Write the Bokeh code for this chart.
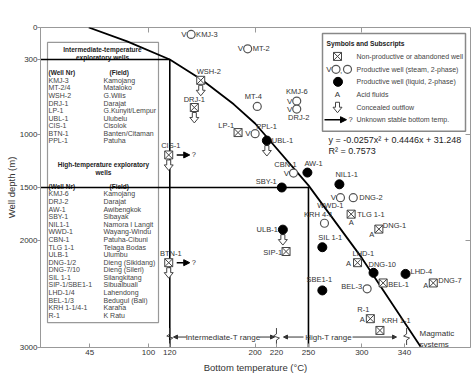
from bokeh.plotting import figure
from bokeh.models import Range1d, FixedTicker, LinearAxis, Arrow, NormalHead, ColumnDataSource
from bokeh.core.properties import value, field
from bokeh.embed import file_html
from bokeh.resources import INLINE

FONT = "Liberation Sans"
TXT = "#333333"

# ---------------- data ----------------
x_ticks = [45, 100, 120, 200, 220, 250, 300, 340]
y_ticks = [0, 300, 1000, 1500, 2000, 3000]
top_ticks = [100, 200, 300]
right_ticks = [1000, 2000]

steam_names = ["KMJ-3", "MT-2", "MT-4", "KMJ-6", "DRJ-2", "PPL-1", "CBN-1", "WWD-1", "DNG-2", "KRH 4-1", "BEL-3"]
steam_temp = [140, 193, 202, 239, 239, 200, 236, 280, 292, 265, 305]
steam_depth = [65, 200, 740, 690, 765, 995, 1365, 1595, 1595, 1835, 2450]
vapour_wells = ["KMJ-3", "MT-2", "KMJ-6", "DRJ-2", "PPL-1", "CBN-1", "WWD-1"]

liquid_names = ["UBL-1", "AW-1", "SBY-1", "ULB-1", "NIL1-1", "SIL 1-1", "DNG-10", "LHD-4", "SBE1-1"]
liquid_temp = [211, 249, 225, 226, 279, 263, 311, 341, 263]
liquid_depth = [1060, 1360, 1500, 1895, 1470, 2060, 2300, 2310, 2465]

aband_names = ["WSH-2", "DRJ-1", "LP-1", "CIS-1", "BTN-1", "SIP-1", "TLG 1-1", "DNG-1", "LHD-1", "BEL-1", "DNG-7", "R-1", "KRH 1-1"]
aband_temp = [149, 143, 184, 119, 119, 229, 290, 316, 296, 320, 367, 308, 317]
aband_depth = [495, 750, 985, 1195, 2205, 2100, 1750, 1890, 2205, 2395, 2395, 2730, 2840]

acid_wells = ["TLG 1-1", "DNG-1", "LHD-1", "DNG-7", "R-1"]
outflow_wells = ["WSH-2", "DRJ-1", "UBL-1", "CIS-1", "BTN-1", "ULB-1"]
unknown_temp_wells = ["CIS-1", "BTN-1"]

trend_temp = [44, 80, 120, 150, 180, 200, 250, 300, 355]
trend_depth = [0, 130, 300, 490, 720, 900, 1480, 2160, 2990]

int_temp_limit, int_depth_limit = 120, 300
high_temp_limit, high_depth_limit = 250, 1500
range_breaks = [120, 220, 342]

int_wells = ["KMJ-3", "MT-2/4", "WSH-2", "DRJ-1", "LP-1", "UBL-1", "CIS-1", "BTN-1", "PPL-1"]
int_fields = ["Kamojang", "Mataloko", "G.Wilis", "Darajat", "G.Kunyit/Lempur", "Ulubelu", "Cisolok",
              "Banten/Citaman", "Patuha"]
high_wells = ["KMJ-6", "DRJ-2", "AW-1", "SBY-1", "NIL1-1", "WWD-1", "CBN-1", "TLG 1-1", "ULB-1", "DNG-1/2",
              "DNG-7/10", "SIL 1-1", "SIP-1/SBE1-1", "LHD-1/4", "BEL-1/3", "KRH 1-1/4-1", "R-1"]
high_fields = ["Kamojang", "Darajat", "Awibengkok", "Sibayak", "Namora I Langit", "Wayang-Windu",
               "Patuha-Cibuni", "Telaga Bodas", "Ulumbu", "Dieng (Sikidang)", "Dieng (Sileri)", "Silangkitang",
               "Sibualbuali", "Lahendong", "Bedugul (Bali)", "Karaha", "K Ratu"]

equation = "y = -0.0257x² + 0.4446x + 31.248"
r_squared = "R² = 0.7573"
legend_texts = ["Non-productive or abandoned well", "Productive well (steam, 2-phase)",
                "Productive well (liquid, 2-phase)", "Acid fluids", "Concealed outflow",
                "Unknown stable bottom temp."]

# ---------------- layout helpers ----------------
X_MIN, X_MAX = -1.2, 401.9
Y_MIN, Y_MAX = 0, 3000
FRAME_L, FRAME_T, FRAME_W, FRAME_H = 40, 27, 430, 321
PXT = FRAME_W / (X_MAX - X_MIN)
PXD = FRAME_H / (Y_MAX - Y_MIN)


def tx(px):
    return X_MIN + (px - FRAME_L) / PXT


def dy(py):
    return Y_MIN + (py - FRAME_T) / PXD


p = figure(width=474, height=375, x_range=Range1d(X_MIN, X_MAX), y_range=Range1d(Y_MAX, Y_MIN),
           output_backend="svg", toolbar_location=None,
           min_border_left=40, min_border_right=4, min_border_top=27, min_border_bottom=27)
p.grid.visible = False
p.outline_line_color = "#999999"

for ax in (p.xaxis[0], p.yaxis[0]):
    ax.axis_line_color = "#999999"
    ax.major_tick_line_color = "#999999"
    ax.minor_tick_line_color = None
    ax.major_label_text_font = FONT
    ax.major_label_text_font_size = "8px"
    ax.major_label_text_color = TXT
    ax.axis_label_text_font = FONT
    ax.axis_label_text_font_size = "9.5px"
    ax.axis_label_text_font_style = "normal"
    ax.axis_label_text_color = TXT

p.xaxis.ticker = FixedTicker(ticks=x_ticks)
p.yaxis.ticker = FixedTicker(ticks=y_ticks)
p.xaxis.axis_label = "Bottom temperature (°C)"
p.yaxis.axis_label = "Well depth (m)"
p.xaxis.major_tick_in = 4
p.xaxis.major_tick_out = 0
p.xaxis.major_label_standoff = 2
p.xaxis.axis_label_standoff = 4
p.yaxis.major_tick_in = 0
p.yaxis.major_tick_out = 3
p.yaxis.major_label_standoff = 0
p.yaxis.axis_label_standoff = 0

top_ax = LinearAxis(ticker=FixedTicker(ticks=top_ticks), major_label_overrides={t: "" for t in top_ticks},
                    major_label_text_font_size="1px", major_label_standoff=0, major_tick_in=5, major_tick_out=0,
                    axis_line_color=None, major_tick_line_color="#999999", minor_tick_line_color=None)
right_ax = LinearAxis(ticker=FixedTicker(ticks=right_ticks), major_label_overrides={t: "" for t in right_ticks},
                      major_label_text_font_size="1px", major_label_standoff=0, major_tick_in=5, major_tick_out=0,
                      axis_line_color=None, major_tick_line_color="#999999", minor_tick_line_color=None)
p.add_layout(top_ax, "above")
p.add_layout(right_ax, "right")


def txt(xs, ys, texts, size="7px", align="left", baseline="middle", style="normal", color=TXT, font=FONT):
    p.text(x=xs, y=ys, text=texts, text_font=value(font), text_font_size=size, text_align=align,
           text_baseline=baseline, text_font_style=style, text_color=color)


# hollow down-arrow outline (px offsets, y downward)
ARROW_SHAPE = [(-2, -5), (2, -5), (2, 0), (4.5, 0), (0, 5.5), (-4.5, 0), (-2, 0)]


def down_arrows(ts, ds, shift):
    xs = [[t + ox / PXT for ox, _ in ARROW_SHAPE] for t in ts]
    ys = [[d + (shift + oy) / PXD for _, oy in ARROW_SHAPE] for d in ds]
    p.patches(xs=xs, ys=ys, fill_color="white", line_color="#444444", line_width=1)


# ---------------- left legend box ----------------
p.quad(left=[tx(47)], right=[tx(158)], top=[dy(42)], bottom=[dy(323)], fill_color=None,
       line_color="#999999", line_width=1.2)
ROW = 7.6
txt([tx(102), tx(102)], [dy(49), dy(57)], ["Intermediate-temperature", "exploratory wells"],
    size="6.5px", align="center", style="bold", color="#222222")
txt([tx(48), tx(109)], [dy(72), dy(72)], ["(Well Nr)", "(Field)"], size="6.5px", style="bold", color="#222222")
txt([tx(48)] * len(int_wells), [dy(80 + i * ROW) for i in range(len(int_wells))], int_wells, color="#444444")
txt([tx(103)] * len(int_fields), [dy(80 + i * ROW) for i in range(len(int_fields))], int_fields, color="#444444")
txt([tx(103), tx(103)], [dy(164), dy(172)], ["High-temperature exploratory", "wells"],
    size="6.5px", align="center", style="bold", color="#222222")
txt([tx(48), tx(109)], [dy(186), dy(186)], ["(Well Nr)", "(Field)"], size="6.5px", style="bold", color="#222222")
txt([tx(48)] * len(high_wells), [dy(194 + i * ROW) for i in range(len(high_wells))], high_wells, color="#444444")
txt([tx(103)] * len(high_fields), [dy(194 + i * ROW) for i in range(len(high_fields))], high_fields,
    color="#444444")

# ---------------- range boundary lines & trend ----------------
p.line([X_MIN, int_temp_limit, int_temp_limit], [int_depth_limit, int_depth_limit, Y_MAX],
       line_color="black", line_width=1.6)
p.line([X_MIN, high_temp_limit, high_temp_limit], [high_depth_limit, high_depth_limit, Y_MAX],
       line_color="black", line_width=1.6)
p.line(trend_temp, trend_depth, line_color="black", line_width=1.8)

# ---------------- right legend box ----------------
p.quad(left=[tx(322)], right=[tx(465)], top=[dy(33)], bottom=[dy(131)], fill_color="white",
       line_color="#888888", line_width=1.5)
txt([tx(326)], [dy(43)], ["Symbols and Subscripts"], size="6.7px", style="bold", color="#222222")
leg_rows = [56, 69, 81.5, 94, 107, 119.5]
txt([tx(356)] * 6, [dy(r) for r in leg_rows], legend_texts, color="#444444")
p.scatter([tx(337)], [dy(leg_rows[0])], marker="square_x", size=8, fill_color="white", line_color="#444444")
txt([tx(331)], [dy(leg_rows[1])], ["V"], size="8px", align="right")
p.scatter([tx(335.5), tx(347)], [dy(leg_rows[1])] * 2, marker="circle", size=8, fill_color="white",
          line_color="#555555", line_width=1.2)
txt([tx(340.5)], [dy(leg_rows[1] + 1)], [","], size="8px", align="center")
p.scatter([tx(337.5)], [dy(leg_rows[2])], marker="circle", size=9, fill_color="black", line_color="black")
txt([tx(337)], [dy(leg_rows[3])], ["A"], size="8px", align="center")
down_arrows([tx(337)], [dy(leg_rows[4])], 0)
p.add_layout(Arrow(x_start=tx(324), y_start=dy(leg_rows[5]), x_end=tx(346), y_end=dy(leg_rows[5]),
                   line_width=1.5, end=NormalHead(size=6, fill_color="black", line_color="black")))
txt([tx(348)], [dy(leg_rows[5])], ["?"], size="7.5px")

txt([tx(328), tx(328)], [dy(140), dy(151)], [equation, r_squared], size="9px", color="#222222")

# ---------------- wells ----------------
LABEL_POS = {
    "KMJ-3": (5, 0, "left", "middle"), "MT-2": (5, 0, "left", "middle"),
    "MT-4": (-4, -5, "center", "bottom"), "KMJ-6": (0, -5, "center", "bottom"),
    "DRJ-2": (2, 4, "center", "top"), "PPL-1": (1, -3, "left", "bottom"),
    "CBN-1": (-8, -4, "center", "bottom"), "WWD-1": (3, 3, "right", "top"),
    "DNG-2": (6, 0, "left", "middle"), "KRH 4-1": (-6, -4, "center", "bottom"),
    "BEL-3": (-5, -2, "right", "middle"),
    "UBL-1": (5, 0, "left", "middle"), "AW-1": (-3, -5, "left", "bottom"),
    "SBY-1": (-5, -2, "right", "bottom"), "ULB-1": (-5, 0, "right", "middle"),
    "NIL1-1": (-4, -5, "left", "bottom"), "SIL 1-1": (-4, -5, "left", "bottom"),
    "DNG-10": (-5, -4, "left", "bottom"), "LHD-4": (5, -2, "left", "middle"),
    "SBE1-1": (-3, -6, "center", "bottom"),
    "WSH-2": (-4, -4, "left", "bottom"), "DRJ-1": (0, -4, "center", "bottom"),
    "LP-1": (-4, -3, "right", "bottom"), "CIS-1": (2, -5, "center", "bottom"),
    "BTN-1": (2, -5, "center", "bottom"), "SIP-1": (-4, 1, "right", "middle"),
    "TLG 1-1": (6, 0, "left", "middle"), "DNG-1": (4, -4, "left", "middle"),
    "LHD-1": (-5, -5, "left", "bottom"), "BEL-1": (5, 2, "left", "middle"),
    "DNG-7": (5, -2, "left", "middle"), "R-1": (-7, -5, "center", "bottom"),
    "KRH 1-1": (2, -5, "left", "bottom"),
}
ACID_POS = {"TLG 1-1": (0, 8), "DNG-1": (-7, 5), "LHD-1": (-9, 1), "DNG-7": (-7.5, 3), "R-1": (-8, 1)}

all_names = steam_names + liquid_names + aband_names
all_temp = steam_temp + liquid_temp + aband_temp
all_depth = steam_depth + liquid_depth + aband_depth
pos = {n: (t, d) for n, t, d in zip(all_names, all_temp, all_depth)}

lab = dict(x=[], y=[], text=[], xo=[], yo=[], al=[], bl=[])
for n in all_names:
    t, d = pos[n]
    ox, oy, a, b = LABEL_POS[n]
    lab["x"].append(t); lab["y"].append(d); lab["text"].append(n)
    lab["xo"].append(ox); lab["yo"].append(oy); lab["al"].append(a); lab["bl"].append(b)
p.text(x="x", y="y", text="text", x_offset="xo", y_offset="yo", text_align=field("al"),
       text_baseline=field("bl"), source=ColumnDataSource(lab), text_font=value(FONT),
       text_font_size="7.5px", text_color=TXT)

# V subscripts
p.text(x=[pos[n][0] for n in vapour_wells], y=[pos[n][1] for n in vapour_wells], text=["V"] * len(vapour_wells),
       x_offset=-4.5, text_align="right", text_baseline="middle", text_font=value(FONT),
       text_font_size="8px", text_color=TXT)
# Acid subscripts
p.text(x=[pos[n][0] for n in acid_wells], y=[pos[n][1] for n in acid_wells], text=["A"] * len(acid_wells),
       x_offset=[ACID_POS[n][0] for n in acid_wells], y_offset=[ACID_POS[n][1] for n in acid_wells],
       text_align="center", text_baseline="middle", text_font=value(FONT), text_font_size="7.5px",
       text_color=TXT)
# concealed outflow arrows
down_arrows([pos[n][0] for n in outflow_wells], [pos[n][1] for n in outflow_wells], 10)
# unknown stable bottom temperature arrows
for n in unknown_temp_wells:
    t, d = pos[n]
    p.add_layout(Arrow(x_start=t + 8 / PXT, y_start=d, x_end=t + 21 / PXT, y_end=d, line_width=1.5,
                       end=NormalHead(size=6, fill_color="black", line_color="black")))
    txt([t + 23 / PXT], [d], ["?"], size="7.5px")

p.scatter(steam_temp, steam_depth, marker="circle", size=8, fill_color="white", line_color="#555555",
          line_width=1.2)
p.scatter(liquid_temp, liquid_depth, marker="circle", size=9, fill_color="black", line_color="black")
p.scatter(aband_temp, aband_depth, marker="square_x", size=8, fill_color="white", line_color="#444444")

# ---------------- temperature-range annotation ----------------
RY = 337.5
brk = [(0, -9), (0, -3), (-3, -1), (3, 1), (0, 3), (0, 8)]
p.multi_line(xs=[[b + ox / PXT for ox, _ in brk] for b in range_breaks],
             ys=[[dy(RY + oy) for _, oy in brk] for _ in range_breaks], line_color="#444444", line_width=1)
head = dict(size=4, fill_color="#333333", line_color="#333333")
for x0, x1 in [(186, 173), (259, 274), (303, 283), (352, 396)]:
    p.add_layout(Arrow(x_start=tx(x0), y_start=dy(RY), x_end=tx(x1), y_end=dy(RY), line_width=1,
                       line_color="#333333", end=NormalHead(**head)))
txt([tx(222.5), tx(328)], [dy(RY), dy(RY)], ["Intermediate-T range", "High-T range"], size="8px",
    align="center")
txt([tx(419), tx(419)], [dy(334), dy(345)], ["Magmatic", "systems"], size="8px")

open("out.html", "w").write(file_html(p, INLINE))
